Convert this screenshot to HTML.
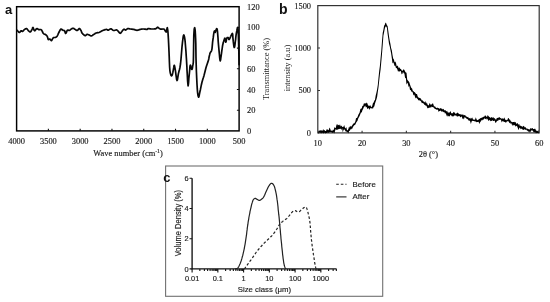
<!DOCTYPE html>
<html><head><meta charset="utf-8"><style>
html,body{margin:0;padding:0;background:#fff;}
svg{display:block;}
</style></head><body>
<svg width="550" height="302" viewBox="0 0 550 302">
<rect width="550" height="302" fill="#fff"/>
<!-- Panel a -->
<text x="5" y="13.6" style="font-family:'Liberation Sans',Arial,sans-serif;font-weight:bold;font-size:13px;fill:#111">a</text>
<rect x="16.6" y="6.7" width="222.50" height="124.20" fill="none" stroke="#000" stroke-width="1.45"/>
<path d="M48.39 130.90 V128.70 M80.17 130.90 V128.70 M111.96 130.90 V128.70 M143.74 130.90 V128.70 M175.53 130.90 V128.70 M207.31 130.90 V128.70 M239.10 110.20 H236.90 M239.10 89.50 H236.90 M239.10 68.80 H236.90 M239.10 48.10 H236.90 M239.10 27.40 H236.90" stroke="#111" stroke-width="1.1" fill="none"/>
<polyline points="17.2,30.3 17.6,30.8 18.2,31.5 18.8,32.2 19.4,32.5 19.8,32.3 20.2,31.8 20.6,31.2 21.0,30.8 21.4,30.8 21.8,31.1 22.2,31.4 22.6,31.4 23.0,31.1 23.4,30.7 23.8,30.1 24.3,29.7 24.8,29.3 25.4,28.9 26.0,28.7 26.5,28.6 26.9,28.8 27.3,29.3 27.7,29.8 28.1,30.3 28.6,30.8 29.2,31.3 29.8,31.8 30.3,31.9 30.8,31.6 31.2,31.0 31.5,30.3 31.9,29.7 32.2,29.0 32.4,28.3 32.7,27.7 33.0,27.5 33.4,28.1 33.7,29.1 34.1,30.2 34.6,30.8 35.1,30.6 35.7,29.8 36.2,29.0 36.8,28.6 37.3,28.7 37.9,29.0 38.4,29.4 39.0,29.7 39.5,29.7 40.1,29.5 40.7,29.5 41.2,29.7 41.8,30.4 42.3,31.5 42.9,32.7 43.4,33.5 43.9,34.0 44.5,34.2 45.0,34.3 45.5,34.6 46.0,34.9 46.4,35.3 46.8,35.8 47.2,36.3 47.5,37.1 47.8,38.0 48.0,38.9 48.3,39.5 48.7,39.6 49.1,39.3 49.5,39.1 49.9,39.0 50.3,39.4 50.7,39.9 51.1,40.5 51.5,40.6 51.9,40.2 52.3,39.4 52.7,38.5 53.2,37.9 53.7,37.6 54.3,37.5 54.9,37.5 55.4,37.4 55.8,37.2 56.2,37.0 56.6,36.7 57.0,36.3 57.4,35.6 57.8,34.8 58.2,33.9 58.6,33.0 59.1,32.0 59.7,30.8 60.2,29.8 60.8,29.2 61.4,29.1 61.9,29.5 62.5,30.0 63.0,30.3 63.5,30.4 63.9,30.5 64.2,30.5 64.6,30.8 64.9,31.5 65.1,32.4 65.4,33.2 65.7,33.5 66.1,33.0 66.5,32.1 66.9,31.0 67.4,30.3 67.9,30.1 68.4,30.2 68.9,30.4 69.5,30.3 70.2,29.9 71.1,29.2 71.9,28.6 72.7,28.3 73.3,28.3 73.9,28.5 74.4,28.9 74.9,29.2 75.5,29.6 76.0,30.0 76.5,30.4 77.1,30.5 77.7,30.2 78.2,29.5 78.8,28.9 79.3,28.6 79.8,28.7 80.2,29.2 80.5,29.7 80.9,30.3 81.2,30.9 81.5,31.7 81.7,32.4 82.0,33.0 82.4,33.5 82.8,33.9 83.2,34.3 83.6,34.6 84.0,35.0 84.4,35.3 84.9,35.6 85.3,35.7 85.7,35.5 86.1,35.1 86.5,34.7 86.9,34.4 87.4,34.4 88.0,34.5 88.5,34.7 89.1,34.9 89.6,35.2 90.2,35.5 90.7,35.8 91.3,35.9 91.8,35.7 92.4,35.4 92.9,35.0 93.5,34.6 94.1,34.2 94.8,33.8 95.5,33.3 96.2,33.0 96.9,32.8 97.6,32.7 98.2,32.7 98.9,32.5 99.6,32.2 100.3,31.8 101.0,31.4 101.6,31.1 102.2,30.8 102.7,30.6 103.2,30.3 103.8,30.1 104.5,29.9 105.2,29.6 105.9,29.5 106.5,29.4 107.0,29.5 107.3,29.8 107.7,30.1 108.2,30.2 108.8,29.9 109.5,29.4 110.2,29.0 110.9,28.8 111.6,29.1 112.2,29.6 112.9,30.2 113.6,30.5 114.3,30.5 115.1,30.2 115.8,30.0 116.4,29.9 116.9,30.0 117.2,30.3 117.6,30.6 118.0,31.0 118.5,31.6 119.1,32.4 119.6,33.0 120.2,33.3 120.8,33.0 121.3,32.3 121.9,31.5 122.4,30.8 122.8,30.3 123.2,29.8 123.6,29.4 124.0,29.2 124.4,29.3 124.8,29.6 125.2,30.0 125.6,30.1 126.1,29.8 126.6,29.4 127.2,28.9 127.8,28.6 128.4,28.6 129.1,28.7 129.8,28.9 130.5,29.0 131.3,29.1 132.1,29.2 132.9,29.3 133.7,29.4 134.5,29.6 135.3,29.9 136.2,30.2 137.0,30.3 137.8,30.2 138.7,29.9 139.5,29.6 140.3,29.4 141.1,29.2 141.9,29.1 142.7,29.0 143.5,29.0 144.4,29.1 145.2,29.2 146.1,29.4 146.8,29.4 147.3,29.3 147.7,29.0 148.0,28.7 148.5,28.6 149.1,28.6 149.7,28.8 150.5,28.9 151.2,29.0 152.0,29.0 152.9,29.0 153.8,29.0 154.5,28.9 155.0,28.9 155.4,28.8 155.7,28.8 156.1,28.6 156.5,28.3 156.9,27.8 157.3,27.4 157.7,27.2 158.1,27.4 158.5,27.8 159.0,28.2 159.4,28.6 159.8,28.8 160.2,29.0 160.6,29.1 161.0,29.2 161.5,29.2 162.1,29.1 162.7,29.0 163.2,29.0 163.6,29.0 163.8,29.1 164.1,29.2 164.3,29.4 164.6,29.7 164.8,30.2 165.0,30.6 165.3,31.0 165.6,31.4 165.9,31.8 166.1,32.0 166.4,31.8 166.6,30.8 166.9,29.3 167.1,27.9 167.3,27.6 167.5,28.6 167.8,30.3 168.0,32.8 168.2,35.6 168.4,38.9 168.6,42.9 168.8,47.1 169.0,51.5 169.2,56.4 169.4,61.7 169.6,66.7 169.9,70.6 170.3,73.1 170.8,74.8 171.2,75.6 171.7,75.9 172.1,75.3 172.5,73.9 172.9,72.2 173.2,70.6 173.5,69.0 173.8,67.2 174.0,65.8 174.3,65.3 174.6,66.1 174.9,67.7 175.3,69.8 175.6,71.9 175.9,74.3 176.3,77.1 176.6,79.4 177.0,80.5 177.4,79.8 177.7,78.0 178.1,75.5 178.5,73.2 179.0,71.3 179.5,69.5 180.0,67.2 180.5,64.0 181.0,59.1 181.5,53.0 182.0,46.9 182.5,42.2 182.9,39.0 183.2,36.7 183.5,35.4 183.8,34.9 184.1,35.5 184.5,37.0 184.9,39.3 185.2,42.2 185.5,46.0 185.9,50.7 186.2,55.6 186.5,60.0 186.7,63.6 186.9,66.9 187.0,70.1 187.2,73.2 187.4,76.9 187.6,80.9 187.9,84.2 188.1,85.8 188.3,84.9 188.6,82.3 188.8,79.0 189.1,75.9 189.4,73.0 189.7,69.8 189.9,67.0 190.2,65.3 190.4,65.1 190.7,65.9 190.9,67.1 191.1,68.0 191.3,68.5 191.6,69.1 191.9,69.4 192.1,69.3 192.3,68.7 192.5,67.7 192.6,66.5 192.8,65.3 193.0,64.5 193.1,63.9 193.3,62.7 193.4,60.0 193.5,54.9 193.6,48.0 193.7,41.0 193.8,35.6 194.0,32.0 194.2,29.4 194.5,27.9 194.7,27.6 194.9,28.6 195.2,30.7 195.4,34.0 195.6,38.2 195.8,43.8 195.9,50.6 196.0,57.9 196.2,64.7 196.4,71.3 196.7,78.1 197.0,84.2 197.3,89.1 197.6,92.6 197.9,95.0 198.3,96.4 198.6,97.1 198.9,96.8 199.2,95.5 199.5,93.7 199.9,91.8 200.4,89.7 200.9,87.2 201.4,84.7 201.9,82.5 202.4,80.7 202.9,79.1 203.4,77.6 203.9,75.9 204.4,74.0 204.9,72.0 205.4,70.0 205.9,68.0 206.5,66.0 207.2,63.9 207.9,61.9 208.5,60.0 208.9,58.2 209.2,56.5 209.6,54.9 209.9,53.5 210.3,52.6 210.8,51.9 211.3,51.3 211.7,50.2 212.0,48.6 212.2,46.6 212.4,44.4 212.6,42.2 212.9,39.8 213.3,37.2 213.6,34.7 213.9,32.9 214.1,31.8 214.3,31.3 214.4,31.1 214.6,31.0 214.7,31.2 214.9,31.8 215.0,32.2 215.2,32.3 215.5,31.6 215.9,30.4 216.3,29.3 216.6,28.7 216.9,28.7 217.1,29.1 217.3,30.0 217.5,31.6 217.7,34.2 218.0,37.7 218.2,41.4 218.5,44.9 218.8,48.2 219.1,51.4 219.4,54.4 219.6,56.8 219.8,58.6 220.0,59.9 220.1,60.6 220.3,60.8 220.5,60.2 220.7,59.0 220.9,57.3 221.2,55.5 221.5,53.4 221.8,50.9 222.2,48.3 222.5,46.2 222.8,44.5 223.2,43.1 223.5,41.9 223.8,40.9 224.1,39.9 224.4,39.0 224.6,38.3 224.9,38.2 225.1,38.9 225.4,40.3 225.6,41.6 225.8,42.2 226.0,41.7 226.3,40.5 226.5,39.1 226.8,38.2 227.1,37.8 227.5,37.5 227.8,37.5 228.1,37.6 228.4,38.0 228.6,38.7 228.8,39.4 229.1,39.6 229.4,39.2 229.8,38.5 230.2,37.6 230.5,36.9 230.8,36.3 231.0,35.8 231.3,35.3 231.5,34.9 231.8,34.4 232.0,33.8 232.3,33.4 232.5,33.6 232.7,34.5 232.8,36.0 232.9,37.8 233.1,39.6 233.3,41.7 233.6,44.2 233.9,46.3 234.2,47.5 234.4,47.4 234.7,46.5 234.9,45.1 235.1,43.5 235.3,41.7 235.6,39.6 235.8,37.4 236.0,35.6 236.2,34.2 236.4,33.0 236.6,32.0 236.8,31.0 237.0,29.8 237.3,28.5 237.5,27.6 237.7,27.6 237.9,28.3 238.1,29.6 238.2,31.8 238.4,35.6 238.6,42.1 238.8,50.6 239.0,59.0 239.1,64.7" fill="none" stroke="#080808" stroke-width="1.7" stroke-linejoin="round" stroke-linecap="round"/>
<g style="font-family:'Liberation Serif',serif;fill:#1a1a1a;stroke:#1a1a1a;stroke-width:0.15px;font-size:8.4px"><text x="16.60" y="144" text-anchor="middle">4000</text><text x="48.39" y="144" text-anchor="middle">3500</text><text x="80.17" y="144" text-anchor="middle">3000</text><text x="111.96" y="144" text-anchor="middle">2500</text><text x="143.74" y="144" text-anchor="middle">2000</text><text x="175.53" y="144" text-anchor="middle">1500</text><text x="207.31" y="144" text-anchor="middle">1000</text><text x="239.10" y="144" text-anchor="middle">500</text><text x="247" y="133.90">0</text><text x="247" y="113.20">20</text><text x="247" y="92.50">40</text><text x="247" y="71.80">60</text><text x="247" y="51.10">80</text><text x="247" y="30.40">100</text><text x="247" y="9.70">120</text></g>
<text x="93.3" y="156.2" textLength="69.5" lengthAdjust="spacingAndGlyphs" style="font-family:'Liberation Serif',serif;fill:#1a1a1a;stroke:#1a1a1a;stroke-width:0.15px;font-size:8.6px">Wave number (cm<tspan dy="-3" font-size="5.8">-1</tspan><tspan dy="3">)</tspan></text>
<text transform="translate(268.5,100) scale(0.86,1) rotate(-90)" textLength="62" lengthAdjust="spacingAndGlyphs" style="font-family:'Liberation Serif',serif;fill:#1a1a1a;stroke:#1a1a1a;stroke-width:0.15px;font-size:8.4px;stroke-width:0">Transmittance (%)</text>
<!-- Panel b -->
<text x="278.9" y="14.3" style="font-family:'Liberation Sans',Arial,sans-serif;font-weight:bold;font-size:14px;fill:#111">b</text>
<rect x="317.8" y="5.6" width="221.40" height="127.30" fill="none" stroke="#333" stroke-width="1.2"/>
<path d="M362.08 132.90 V130.70 M406.36 132.90 V130.70 M450.64 132.90 V130.70 M494.92 132.90 V130.70 M317.80 90.47 H320.00 M317.80 48.03 H320.00" stroke="#333" stroke-width="1.1" fill="none"/>
<polygon points="318.3,130.8 319.0,130.8 319.7,130.6 320.4,130.4 321.1,129.9 321.8,130.8 322.5,130.7 323.2,129.1 323.9,130.5 324.6,130.1 325.3,131.0 326.0,131.0 326.7,129.3 327.4,129.3 328.1,130.3 328.8,129.8 329.5,127.5 330.2,128.7 330.9,130.8 331.6,130.6 332.3,130.9 333.0,129.4 333.7,130.2 334.4,126.9 335.1,128.1 335.8,127.8 336.5,124.7 337.2,124.0 337.9,125.6 338.6,124.7 339.3,125.5 340.0,124.2 340.7,126.5 341.4,125.4 342.1,126.7 342.8,127.1 343.5,126.7 344.2,125.0 344.9,127.6 345.6,128.6 346.3,127.1 347.0,130.2 347.7,130.3 348.4,128.9 349.1,126.2 349.8,127.8 350.5,125.7 351.2,126.7 351.9,125.7 352.6,124.8 353.3,123.6 354.0,123.4 354.7,122.8 355.4,121.2 356.1,117.8 356.8,118.3 357.5,117.1 358.2,114.9 358.9,113.8 359.6,112.4 360.3,109.2 361.0,108.5 361.7,108.6 362.4,105.7 363.1,105.9 363.8,103.5 364.5,103.4 365.2,103.0 365.9,103.7 366.6,102.4 367.3,103.3 368.0,105.2 368.7,105.8 369.4,106.1 370.1,105.1 370.8,106.3 371.5,107.3 372.2,105.9 372.9,103.2 373.6,102.4 374.3,100.8 375.0,99.8 375.7,95.6 376.4,92.8 377.1,89.4 377.8,85.0 378.5,77.7 379.2,71.0 379.9,65.7 380.6,58.1 381.3,50.5 382.0,40.9 382.7,33.1 383.4,29.7 384.1,25.8 384.8,24.8 385.5,22.5 386.2,23.3 386.9,25.2 387.6,25.9 388.3,31.1 389.0,36.3 389.7,40.6 390.4,43.7 391.1,47.9 391.8,50.3 392.5,55.1 393.2,58.5 393.9,59.6 394.6,62.3 395.3,61.6 396.0,63.1 396.7,66.3 397.4,65.5 398.1,66.6 398.8,68.3 399.5,67.3 400.2,69.1 400.9,68.8 401.6,70.3 402.3,71.0 403.0,69.9 403.7,69.3 404.4,70.0 405.1,71.6 405.8,72.5 406.5,72.7 407.2,79.4 407.9,80.6 408.6,81.3 409.3,82.2 410.0,84.5 410.7,86.5 411.4,87.9 412.1,88.6 412.8,90.8 413.5,91.2 414.2,92.0 414.9,92.2 415.6,93.4 416.3,93.9 417.0,94.0 417.7,96.5 418.4,97.6 419.1,97.8 419.8,97.9 420.5,98.3 421.2,99.2 421.9,100.5 422.6,100.3 423.3,101.5 424.0,101.4 424.7,102.5 425.4,101.1 426.1,103.8 426.8,102.2 427.5,104.6 428.2,105.6 428.9,104.9 429.6,102.9 430.3,104.1 431.0,105.2 431.7,104.0 432.4,103.5 433.1,103.5 433.8,105.7 434.5,106.5 435.2,106.6 435.9,107.7 436.6,107.9 437.3,107.6 438.0,108.2 438.7,107.9 439.4,108.7 440.1,108.5 440.8,107.9 441.5,108.4 442.2,109.6 442.9,108.8 443.6,109.1 444.3,110.4 445.0,110.1 445.7,110.5 446.4,111.5 447.1,110.7 447.8,112.4 448.5,112.4 449.2,112.8 449.9,112.0 450.6,110.9 451.3,113.5 452.0,112.9 452.7,113.6 453.4,111.8 454.1,112.7 454.8,112.3 455.5,113.9 456.2,113.5 456.9,113.3 457.6,112.6 458.3,113.0 459.0,114.3 459.7,114.0 460.4,114.4 461.1,114.1 461.8,115.1 462.5,114.6 463.2,114.4 463.9,115.6 464.6,114.9 465.3,115.3 466.0,116.4 466.7,116.6 467.4,117.2 468.1,116.7 468.8,118.2 469.5,118.2 470.2,117.8 470.9,119.0 471.6,117.9 472.3,117.5 473.0,119.4 473.7,119.4 474.4,119.7 475.1,119.6 475.8,117.3 476.5,119.3 477.2,120.2 477.9,120.1 478.6,119.6 479.3,118.9 480.0,118.5 480.7,118.1 481.4,117.8 482.1,117.8 482.8,117.1 483.5,116.8 484.2,116.7 484.9,115.6 485.6,115.5 486.3,116.6 487.0,117.0 487.7,115.0 488.4,115.9 489.1,116.7 489.8,117.2 490.5,117.9 491.2,116.9 491.9,117.4 492.6,117.8 493.3,116.9 494.0,118.4 494.7,118.1 495.4,119.2 496.1,119.8 496.8,118.0 497.5,117.9 498.2,117.6 498.9,117.7 499.6,117.0 500.3,117.9 501.0,118.3 501.7,118.7 502.4,118.5 503.1,118.3 503.8,118.9 504.5,117.2 505.2,120.1 505.9,119.5 506.6,120.3 507.3,120.1 508.0,118.3 508.7,117.9 509.4,119.6 510.1,119.8 510.8,121.2 511.5,121.8 512.2,122.2 512.9,122.1 513.6,122.1 514.3,121.7 515.0,122.4 515.7,122.0 516.4,124.1 517.1,123.2 517.8,123.2 518.5,124.8 519.2,123.9 519.9,126.1 520.6,125.4 521.3,126.6 522.0,125.8 522.7,127.3 523.4,125.7 524.1,126.3 524.8,127.4 525.5,127.0 526.2,128.5 526.9,128.6 527.6,128.7 528.3,129.0 529.0,129.4 529.7,129.6 530.4,128.1 531.1,128.8 531.8,128.3 532.5,127.9 533.2,129.0 533.9,129.1 534.6,128.8 535.3,128.8 536.0,130.5 536.7,130.7 537.4,130.8 538.1,131.4 538.8,129.5 538.8,133.4 538.1,132.9 537.4,133.0 536.7,132.7 536.0,133.4 535.3,132.3 534.6,132.2 533.9,132.4 533.2,131.4 532.5,130.6 531.8,130.3 531.1,130.7 530.4,132.1 529.7,132.4 529.0,131.0 528.3,131.9 527.6,130.8 526.9,130.5 526.2,129.6 525.5,129.9 524.8,129.3 524.1,129.6 523.4,130.1 522.7,129.5 522.0,129.3 521.3,128.4 520.6,129.2 519.9,127.6 519.2,128.3 518.5,130.2 517.8,127.9 517.1,126.2 516.4,125.8 515.7,126.7 515.0,125.6 514.3,125.0 513.6,125.4 512.9,124.5 512.2,125.9 511.5,123.2 510.8,124.0 510.1,122.4 509.4,123.3 508.7,121.4 508.0,121.3 507.3,121.3 506.6,121.8 505.9,123.1 505.2,122.0 504.5,122.0 503.8,121.5 503.1,121.6 502.4,120.9 501.7,122.6 501.0,120.0 500.3,119.5 499.6,119.9 498.9,119.4 498.2,120.7 497.5,120.7 496.8,121.3 496.1,122.6 495.4,122.9 494.7,120.6 494.0,120.9 493.3,120.9 492.6,120.2 491.9,120.8 491.2,121.1 490.5,121.2 489.8,119.8 489.1,120.6 488.4,121.0 487.7,118.6 487.0,120.1 486.3,118.3 485.6,119.3 484.9,118.4 484.2,118.4 483.5,119.4 482.8,120.4 482.1,119.5 481.4,120.6 480.7,121.5 480.0,122.4 479.3,123.9 478.6,121.7 477.9,122.0 477.2,122.1 476.5,122.2 475.8,121.6 475.1,121.4 474.4,121.3 473.7,121.0 473.0,121.0 472.3,120.8 471.6,121.4 470.9,123.9 470.2,121.5 469.5,120.6 468.8,120.8 468.1,119.7 467.4,118.9 466.7,119.0 466.0,117.8 465.3,117.8 464.6,117.1 463.9,119.4 463.2,118.3 462.5,119.1 461.8,116.6 461.1,116.8 460.4,117.6 459.7,116.3 459.0,115.9 458.3,116.3 457.6,116.4 456.9,116.6 456.2,115.5 455.5,115.6 454.8,115.6 454.1,115.6 453.4,116.4 452.7,116.2 452.0,116.4 451.3,115.6 450.6,114.8 449.9,116.1 449.2,116.6 448.5,116.3 447.8,115.2 447.1,116.7 446.4,115.1 445.7,113.0 445.0,113.8 444.3,112.1 443.6,112.2 442.9,111.6 442.2,111.6 441.5,111.8 440.8,110.6 440.1,110.9 439.4,110.9 438.7,112.0 438.0,110.1 437.3,109.4 436.6,109.8 435.9,109.3 435.2,108.9 434.5,108.4 433.8,108.1 433.1,106.8 432.4,107.3 431.7,106.6 431.0,107.7 430.3,107.3 429.6,107.5 428.9,108.3 428.2,107.8 427.5,108.6 426.8,106.4 426.1,105.5 425.4,105.6 424.7,104.9 424.0,104.3 423.3,103.3 422.6,103.0 421.9,103.2 421.2,101.8 420.5,100.8 419.8,100.8 419.1,99.9 418.4,100.5 417.7,99.1 417.0,98.4 416.3,97.4 415.6,98.4 414.9,96.5 414.2,94.4 413.5,95.6 412.8,92.8 412.1,91.6 411.4,91.7 410.7,89.9 410.0,90.1 409.3,86.0 408.6,87.1 407.9,83.7 407.2,82.7 406.5,84.7 405.8,77.8 405.1,78.3 404.4,73.5 403.7,73.3 403.0,71.7 402.3,74.1 401.6,74.3 400.9,71.2 400.2,71.1 399.5,71.7 398.8,70.7 398.1,71.9 397.4,69.6 396.7,68.0 396.0,68.3 395.3,65.8 394.6,66.1 393.9,63.7 393.2,62.3 392.5,63.5 391.8,58.0 391.1,53.3 390.4,49.7 389.7,46.2 389.0,43.8 388.3,38.7 387.6,34.0 386.9,27.7 386.2,26.4 385.5,26.4 384.8,28.4 384.1,32.3 383.4,35.8 382.7,45.3 382.0,54.1 381.3,61.8 380.6,69.5 379.9,74.4 379.2,80.7 378.5,87.3 377.8,92.1 377.1,97.0 376.4,99.6 375.7,101.4 375.0,103.5 374.3,106.4 373.6,107.1 372.9,108.9 372.2,108.1 371.5,108.5 370.8,108.3 370.1,108.2 369.4,110.1 368.7,107.8 368.0,108.9 367.3,108.7 366.6,106.8 365.9,107.4 365.2,105.6 364.5,106.6 363.8,107.3 363.1,109.0 362.4,110.3 361.7,112.4 361.0,112.6 360.3,114.2 359.6,115.9 358.9,117.2 358.2,118.6 357.5,120.7 356.8,121.7 356.1,122.7 355.4,124.4 354.7,124.9 354.0,125.6 353.3,126.4 352.6,127.7 351.9,129.5 351.2,128.4 350.5,129.6 349.8,130.8 349.1,130.9 348.4,133.4 347.7,132.0 347.0,132.5 346.3,131.2 345.6,131.4 344.9,130.1 344.2,129.2 343.5,130.0 342.8,132.6 342.1,128.3 341.4,129.9 340.7,128.8 340.0,128.7 339.3,128.9 338.6,129.1 337.9,129.7 337.2,129.6 336.5,129.9 335.8,129.0 335.1,130.8 334.4,133.4 333.7,132.6 333.0,132.4 332.3,133.1 331.6,132.2 330.9,132.2 330.2,132.1 329.5,132.3 328.8,132.7 328.1,132.8 327.4,132.5 326.7,133.1 326.0,133.1 325.3,133.4 324.6,132.4 323.9,133.2 323.2,133.2 322.5,132.7 321.8,132.7 321.1,133.4 320.4,132.7 319.7,132.3 319.0,133.4 318.3,133.4" fill="#000" stroke="none"/>
<g style="font-family:'Liberation Serif',serif;fill:#1a1a1a;stroke:#1a1a1a;stroke-width:0.15px;font-size:8.4px"><text x="317.80" y="146" text-anchor="middle">10</text><text x="362.08" y="146" text-anchor="middle">20</text><text x="406.36" y="146" text-anchor="middle">30</text><text x="450.64" y="146" text-anchor="middle">40</text><text x="494.92" y="146" text-anchor="middle">50</text><text x="539.20" y="146" text-anchor="middle">60</text><text x="311" y="135.90" text-anchor="end">0</text><text x="311" y="93.47" text-anchor="end">500</text><text x="311" y="51.03" text-anchor="end">1000</text><text x="311" y="8.60" text-anchor="end">1500</text></g>
<text x="418.8" y="157.1" textLength="19.2" lengthAdjust="spacingAndGlyphs" style="font-family:'Liberation Serif',serif;fill:#1a1a1a;stroke:#1a1a1a;stroke-width:0.15px;font-size:8.6px">2θ (°)</text>
<text transform="translate(289.6,91.3) scale(0.86,1) rotate(-90)" textLength="46.5" lengthAdjust="spacingAndGlyphs" style="font-family:'Liberation Serif',serif;fill:#1a1a1a;stroke:#1a1a1a;stroke-width:0.15px;font-size:8.4px;stroke-width:0">intensity (a.u)</text>
<!-- Panel c -->
<rect x="165.6" y="166" width="217.1" height="130.3" fill="none" stroke="#707070" stroke-width="1.1"/>
<text x="163.2" y="181.9" style="font-family:'Liberation Sans',Arial,sans-serif;font-weight:bold;font-size:13px;fill:#111">c</text>
<path d="M192.1 178.3 V268.9 H336.6" stroke="#111" stroke-width="1.35" fill="none"/>
<path d="M192.10 268.9 V272.50 M199.85 268.9 V270.90 M204.39 268.9 V270.90 M207.60 268.9 V270.90 M210.10 268.9 V270.90 M212.14 268.9 V270.90 M213.86 268.9 V270.90 M215.35 268.9 V270.90 M216.67 268.9 V270.90 M217.85 268.9 V272.50 M225.60 268.9 V270.90 M230.14 268.9 V270.90 M233.35 268.9 V270.90 M235.85 268.9 V270.90 M237.89 268.9 V270.90 M239.61 268.9 V270.90 M241.10 268.9 V270.90 M242.42 268.9 V270.90 M243.60 268.9 V272.50 M251.35 268.9 V270.90 M255.89 268.9 V270.90 M259.10 268.9 V270.90 M261.60 268.9 V270.90 M263.64 268.9 V270.90 M265.36 268.9 V270.90 M266.85 268.9 V270.90 M268.17 268.9 V270.90 M269.35 268.9 V272.50 M277.10 268.9 V270.90 M281.64 268.9 V270.90 M284.85 268.9 V270.90 M287.35 268.9 V270.90 M289.39 268.9 V270.90 M291.11 268.9 V270.90 M292.60 268.9 V270.90 M293.92 268.9 V270.90 M295.10 268.9 V272.50 M302.85 268.9 V270.90 M307.39 268.9 V270.90 M310.60 268.9 V270.90 M313.10 268.9 V270.90 M315.14 268.9 V270.90 M316.86 268.9 V270.90 M318.35 268.9 V270.90 M319.67 268.9 V270.90 M320.85 268.9 V272.50 M328.60 268.9 V270.90 M333.14 268.9 V270.90 M336.35 268.9 V270.90 M336.35 268.9 V270.90 M192.10 268.90 H189.50 M192.10 238.70 H189.50 M192.10 208.50 H189.50 M192.10 178.30 H189.50" stroke="#111" stroke-width="1.1" fill="none"/>
<polyline points="235.0,269.0 235.3,268.9 235.7,268.9 236.1,268.8 236.6,268.6 237.1,268.5 237.5,268.2 237.8,267.9 238.1,267.6 238.4,267.2 238.7,266.7 239.0,266.1 239.3,265.5 239.6,264.8 240.0,264.0 240.4,263.1 240.7,262.1 241.1,261.0 241.5,259.8 241.9,258.4 242.3,256.8 242.8,255.2 243.2,253.4 243.6,251.6 244.0,249.8 244.4,248.0 244.7,246.1 245.1,244.1 245.4,242.2 245.7,240.2 246.0,238.2 246.3,236.2 246.6,234.1 246.8,232.0 247.1,229.9 247.3,227.9 247.6,226.0 247.9,224.2 248.1,222.4 248.4,220.7 248.7,219.1 248.9,217.5 249.2,216.0 249.5,214.5 249.8,213.1 250.0,211.7 250.3,210.4 250.6,209.1 250.9,207.8 251.2,206.5 251.5,205.2 251.8,203.9 252.2,202.7 252.5,201.7 252.8,200.8 253.1,200.1 253.5,199.5 253.8,199.1 254.1,198.8 254.5,198.6 254.8,198.4 255.2,198.4 255.5,198.4 255.9,198.6 256.2,198.9 256.6,199.1 257.0,199.3 257.4,199.5 257.8,199.7 258.2,200.0 258.6,200.2 259.0,200.3 259.4,200.4 259.8,200.4 260.1,200.2 260.4,200.0 260.8,199.8 261.1,199.5 261.5,199.2 261.9,198.9 262.3,198.6 262.6,198.3 263.1,197.8 263.5,197.2 264.0,196.4 264.6,195.3 265.2,193.8 265.8,192.3 266.5,190.7 267.2,189.2 267.8,187.9 268.4,186.8 269.0,185.8 269.6,184.9 270.2,184.1 270.7,183.6 271.3,183.3 271.8,183.3 272.4,183.5 272.9,184.0 273.4,184.6 273.9,185.5 274.4,186.5 274.8,187.8 275.2,189.3 275.6,191.0 276.0,192.8 276.4,194.8 276.7,196.9 277.0,199.2 277.4,201.7 277.7,204.3 278.0,206.9 278.2,209.6 278.5,212.0 278.7,214.2 279.0,216.4 279.2,218.4 279.4,220.5 279.6,222.7 279.8,225.0 280.0,227.6 280.3,230.3 280.5,233.1 280.8,236.0 281.0,238.8 281.3,241.5 281.6,244.1 281.8,246.8 282.1,249.4 282.4,251.9 282.6,254.3 282.9,256.4 283.1,258.3 283.4,260.1 283.6,261.7 283.8,263.1 284.1,264.4 284.3,265.5 284.6,266.4 284.9,267.2 285.2,267.8 285.5,268.3 285.7,268.7 285.9,269.0" fill="none" stroke="#222" stroke-width="1.2" stroke-linejoin="round"/>
<polyline points="244.3,269.1 244.8,268.4 245.4,267.5 246.2,266.5 247.0,265.3 247.8,264.2 248.6,263.1 249.3,262.1 250.0,261.1 250.8,260.1 251.5,259.1 252.2,258.1 252.9,257.1 253.6,256.1 254.3,255.1 255.0,254.1 255.7,253.0 256.4,252.0 257.2,251.0 258.0,250.0 258.9,249.0 259.7,247.9 260.6,246.9 261.5,246.0 262.4,245.0 263.3,244.1 264.1,243.2 265.0,242.3 265.9,241.5 266.7,240.7 267.6,239.8 268.5,239.0 269.4,238.1 270.3,237.3 271.1,236.5 272.0,235.6 272.8,234.7 273.6,233.7 274.4,232.7 275.1,231.6 275.8,230.5 276.5,229.5 277.1,228.6 277.6,227.8 278.0,227.1 278.4,226.4 278.7,225.8 279.1,225.2 279.5,224.6 280.0,224.0 280.5,223.5 281.0,223.0 281.5,222.5 282.0,222.0 282.5,221.6 282.9,221.2 283.3,220.9 283.7,220.7 284.1,220.4 284.5,220.2 284.9,219.9 285.3,219.6 285.7,219.3 286.1,219.0 286.6,218.7 287.0,218.3 287.4,217.9 287.8,217.5 288.2,217.0 288.6,216.5 289.0,216.0 289.5,215.4 289.9,214.9 290.4,214.3 290.9,213.7 291.4,213.0 291.9,212.4 292.4,211.8 292.9,211.4 293.3,211.1 293.8,210.9 294.2,210.7 294.6,210.7 295.0,210.7 295.4,210.7 295.9,210.9 296.3,211.1 296.8,211.5 297.3,211.8 297.8,212.1 298.3,212.1 298.8,211.9 299.3,211.7 299.8,211.3 300.3,210.8 300.8,210.3 301.3,209.9 301.9,209.4 302.5,208.9 303.1,208.3 303.7,207.8 304.3,207.4 304.8,207.1 305.2,207.0 305.5,207.0 305.8,207.1 306.1,207.3 306.4,207.5 306.6,207.9 306.8,208.4 307.1,209.0 307.2,209.7 307.4,210.4 307.6,211.2 307.8,211.9 308.0,212.6 308.2,213.2 308.3,213.9 308.5,214.6 308.6,215.2 308.8,215.9 308.9,216.6 309.1,217.2 309.2,217.8 309.4,218.5 309.5,219.2 309.6,219.9 309.7,220.6 309.8,221.4 309.9,222.1 310.0,222.9 310.1,223.9 310.2,225.0 310.3,226.3 310.4,227.7 310.5,229.3 310.6,230.9 310.8,232.6 310.9,234.3 311.1,236.0 311.2,237.8 311.4,239.7 311.7,241.5 311.9,243.4 312.1,245.2 312.3,247.0 312.6,248.9 312.9,250.7 313.2,252.6 313.4,254.4 313.7,256.1 314.0,257.8 314.2,259.5 314.5,261.2 314.7,262.8 315.0,264.2 315.2,265.4 315.4,266.4 315.6,267.2 315.8,267.8 316.0,268.3 316.1,268.7 316.2,269.0" fill="none" stroke="#222" stroke-width="1.2" stroke-dasharray="2.6 2" stroke-linejoin="round"/>
<g style="font-family:'Liberation Sans',Arial,sans-serif;fill:#1a1a1a;stroke:#1a1a1a;stroke-width:0.15px;font-size:7.4px"><text x="192.10" y="280.5" text-anchor="middle">0.01</text><text x="217.85" y="280.5" text-anchor="middle">0.1</text><text x="243.60" y="280.5" text-anchor="middle">1</text><text x="269.35" y="280.5" text-anchor="middle">10</text><text x="295.10" y="280.5" text-anchor="middle">100</text><text x="320.85" y="280.5" text-anchor="middle">1000</text><text x="188.6" y="271.50" text-anchor="end">0</text><text x="188.6" y="241.30" text-anchor="end">2</text><text x="188.6" y="211.10" text-anchor="end">4</text><text x="188.6" y="180.90" text-anchor="end">6</text></g>
<text x="237.8" y="291.6" textLength="53.4" lengthAdjust="spacingAndGlyphs" style="font-family:'Liberation Sans',Arial,sans-serif;fill:#1a1a1a;stroke:#1a1a1a;stroke-width:0.15px;font-size:7.9px">Size class (μm)</text>
<text transform="translate(180.7,256.3) rotate(-90)" textLength="66.4" lengthAdjust="spacingAndGlyphs" style="font-family:'Liberation Sans',Arial,sans-serif;fill:#1a1a1a;stroke:#1a1a1a;stroke-width:0.15px;font-size:8.4px">Volume Density (%)</text>
<path d="M336.2 184.3 H346.5" stroke="#222" stroke-width="1.1" stroke-dasharray="2.6 2"/>
<path d="M336.2 196.9 H346.5" stroke="#222" stroke-width="1.1"/>
<text x="352.6" y="187.2" style="font-family:'Liberation Sans',Arial,sans-serif;fill:#1a1a1a;stroke:#1a1a1a;stroke-width:0.15px;font-size:7.9px">Before</text>
<text x="352.6" y="199.4" style="font-family:'Liberation Sans',Arial,sans-serif;fill:#1a1a1a;stroke:#1a1a1a;stroke-width:0.15px;font-size:7.9px">After</text>
</svg>
</body></html>
